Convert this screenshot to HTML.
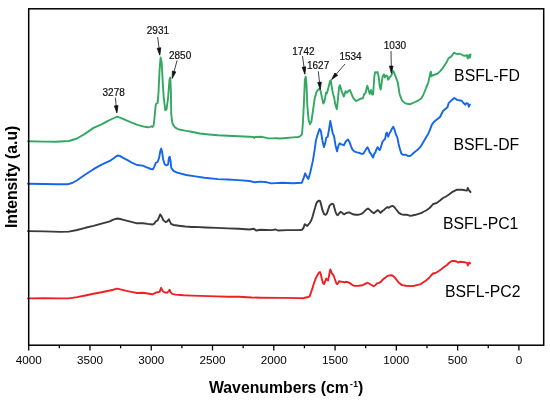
<!DOCTYPE html>
<html><head><meta charset="utf-8"><style>
html,body{margin:0;padding:0;background:#fff;}
body{width:550px;height:401px;overflow:hidden;}
svg{display:block;}
text{font-family:"Liberation Sans",Arial,sans-serif;}
</style></head><body>
<svg width="550" height="401" viewBox="0 0 550 401">
<g fill="none" stroke-linejoin="round" stroke-linecap="round" stroke-width="1.9">
<polyline stroke="#32a862" points="28.0,141.3 44.0,141.6 55.8,141.8 69.0,141.0 77.0,138.5 85.3,133.6 93.5,127.9 101.6,124.3 107.5,121.1 113.0,118.5 117.2,116.7 122.4,118.6 129.9,121.9 137.4,124.9 144.9,126.8 148.0,127.3 150.0,126.8 151.5,126.3 152.5,127.0 153.6,125.5 154.5,118.0 155.6,106.0 156.3,103.6 157.6,103.2 158.5,92.4 159.5,71.2 160.6,57.4 161.7,62.7 162.7,81.8 163.8,98.7 165.3,110.4 166.5,109.3 168.0,98.7 169.5,79.7 170.3,77.6 170.9,92.4 171.2,113.0 171.8,119.5 172.5,123.5 174.0,126.2 175.3,127.7 178.9,129.5 186.2,130.9 191.6,131.8 199.8,133.5 208.9,134.5 218.0,135.3 227.7,135.7 238.6,136.3 249.5,136.8 253.5,137.0 254.3,138.0 255.0,137.0 262.0,136.8 267.5,138.2 272.0,138.4 276.0,138.2 280.0,138.5 286.0,138.0 293.2,137.4 298.0,137.0 300.0,136.3 302.0,134.3 302.9,123.0 303.8,105.5 304.9,79.6 305.7,76.7 306.5,84.4 307.3,105.5 308.6,120.0 309.9,124.2 311.4,121.5 313.0,110.4 314.6,99.0 316.3,92.6 317.9,90.1 319.5,88.5 320.6,90.9 321.9,97.4 323.3,103.6 324.4,101.5 325.2,97.4 326.0,92.6 326.8,93.4 327.6,90.9 328.4,87.7 330.0,81.2 330.8,80.4 331.6,86.1 332.9,93.4 334.1,97.4 335.2,103.9 336.8,109.2 337.8,100.7 339.0,87.7 339.8,85.3 340.0,85.2 341.6,91.2 343.8,96.6 345.5,91.2 346.8,92.8 348.2,91.2 349.8,89.9 351.5,93.9 353.1,97.7 355.8,101.0 358.5,99.9 360.7,98.6 362.9,98.3 364.0,94.5 365.6,92.8 367.3,85.7 368.6,90.1 369.7,93.9 371.1,90.1 372.2,94.5 373.1,94.5 374.4,75.9 375.1,72.1 376.5,72.6 377.6,72.1 378.7,77.0 379.8,86.8 380.6,89.5 381.5,84.6 382.5,77.0 383.9,74.3 384.9,77.5 386.4,75.4 387.5,76.5 388.2,79.7 389.6,77.5 391.3,75.4 393.2,71.0 394.5,73.7 396.2,78.1 397.8,82.5 399.5,93.4 400.2,95.9 402.0,100.3 404.6,102.9 407.2,103.8 409.8,104.3 412.5,103.2 415.1,102.0 418.6,100.3 421.2,98.5 423.0,95.5 424.7,91.5 426.4,87.2 428.2,82.8 429.4,77.6 430.5,72.3 430.9,71.8 431.4,76.4 432.3,75.5 435.0,74.5 437.7,73.6 440.0,71.4 442.3,68.6 444.5,65.5 446.8,61.8 448.6,58.2 451.4,56.4 452.7,54.5 454.1,52.7 455.9,53.6 457.7,54.1 459.5,53.6 461.4,54.5 463.2,55.5 465.0,55.9 466.8,55.0 467.7,58.6 468.6,55.9 469.5,55.0 470.0,57.7 470.5,54.5"/>
<polyline stroke="#1566e8" points="28.0,183.8 44.4,184.0 55.8,184.3 67.3,184.3 72.2,183.0 77.1,180.2 85.3,174.5 93.5,169.2 101.6,164.6 109.8,160.9 113.3,158.4 117.4,155.5 119.8,155.9 123.1,157.9 128.0,160.4 132.9,163.2 137.0,165.0 142.7,165.6 146.8,167.4 150.9,169.0 152.9,169.4 154.2,166.9 155.8,162.8 157.5,162.0 159.1,157.9 160.4,150.5 161.2,148.6 162.0,151.4 163.2,159.5 164.8,164.5 166.5,165.3 168.1,164.5 168.9,157.9 169.7,156.8 170.6,161.2 171.2,167.7 173.5,170.9 177.1,172.7 186.2,175.0 195.3,176.4 204.4,177.7 218.0,179.1 227.7,179.5 238.6,180.1 249.5,181.0 255.0,182.3 260.5,181.6 267.0,182.3 271.4,183.4 282.3,182.7 293.2,183.2 301.9,182.7 303.7,177.9 305.2,173.3 306.5,176.1 308.4,178.9 310.3,172.3 312.8,161.1 314.5,150.8 315.9,140.5 317.8,134.0 319.6,128.9 320.9,131.2 322.4,140.5 323.9,147.1 325.2,143.3 326.2,137.7 327.7,136.8 329.0,129.3 330.3,120.9 331.4,126.5 332.7,133.1 334.0,135.9 335.5,145.2 337.0,151.4 338.3,146.1 339.6,143.3 341.5,144.3 343.9,145.2 345.8,141.5 348.0,139.4 349.5,141.9 351.0,146.4 352.5,149.7 354.7,151.6 357.0,152.4 359.2,152.8 361.5,153.9 363.0,153.9 364.4,152.1 365.9,149.4 367.4,147.2 368.6,149.4 369.7,152.4 371.2,154.2 373.0,157.6 374.2,153.9 375.4,152.4 376.4,149.4 377.6,147.2 378.7,149.1 379.7,150.1 380.9,147.2 382.4,141.9 383.9,140.1 385.1,138.9 386.1,133.7 386.9,132.6 388.1,136.7 389.1,134.1 390.6,131.5 392.1,128.5 393.2,126.7 394.4,129.2 395.9,134.4 397.3,137.4 398.5,143.4 400.0,149.4 401.5,153.9 403.3,154.9 405.6,154.6 407.5,155.7 409.3,156.1 410.8,155.7 412.3,154.2 413.8,152.8 417.0,150.3 420.5,146.8 423.1,142.4 425.7,138.1 428.3,133.7 430.1,129.3 431.8,124.9 433.6,122.3 436.2,120.1 438.8,118.0 440.0,117.0 443.0,111.0 446.0,108.5 447.5,107.3 448.6,103.2 451.0,100.8 454.2,98.0 457.2,99.9 461.7,100.8 463.2,102.8 465.4,104.7 466.5,103.1 468.0,103.6 468.8,106.9 469.9,104.7"/>
<polyline stroke="#3a3a3a" points="28.0,231.1 44.4,231.4 60.7,231.9 68.9,231.6 77.1,230.0 85.3,227.8 93.5,225.9 101.6,223.7 109.8,221.3 113.3,219.6 117.4,218.5 121.5,219.3 126.4,220.6 131.3,221.9 136.2,223.2 142.7,223.2 147.6,223.9 152.6,224.5 154.2,223.7 155.8,221.3 157.5,220.5 159.1,217.2 160.2,214.4 161.6,216.4 163.2,220.0 165.6,222.1 167.3,221.3 168.9,219.3 170.2,222.1 171.4,224.2 173.8,225.0 178.7,225.7 185.3,226.5 191.8,227.0 195.0,226.9 205.9,227.5 216.8,227.9 227.7,228.4 238.6,228.8 249.5,229.5 253.9,228.8 256.1,230.5 260.5,229.7 271.4,230.1 275.7,229.5 277.9,230.5 286.6,230.1 299.7,230.1 301.9,229.8 303.5,228.0 304.7,224.3 305.6,224.7 306.9,225.9 308.1,224.9 309.7,223.0 311.2,220.5 312.5,216.8 313.7,212.4 315.0,208.1 316.2,203.7 317.5,201.6 319.0,200.6 320.2,201.2 321.2,205.0 322.4,209.9 323.9,213.9 325.6,214.9 326.8,213.7 328.1,209.9 329.3,206.2 330.9,204.3 332.4,203.7 333.4,204.3 334.3,207.4 335.5,211.8 336.8,214.7 337.8,215.3 338.9,213.7 340.5,211.8 341.8,212.4 343.0,213.7 344.3,214.3 345.5,213.4 347.4,212.7 349.3,212.4 351.1,213.4 353.0,214.3 355.5,214.7 358.0,214.8 361.4,213.9 363.9,211.9 366.5,209.3 368.0,208.5 369.6,209.7 371.5,211.6 373.8,213.2 376.0,211.4 377.9,210.1 379.2,211.4 380.5,212.9 382.4,211.0 384.3,209.7 386.2,207.8 387.5,207.2 388.7,207.8 390.6,206.5 392.9,205.9 394.5,207.2 396.4,209.7 398.9,212.9 401.5,214.4 404.0,214.8 406.5,214.6 409.7,215.7 412.3,215.5 415.5,214.8 418.6,213.9 421.8,212.9 423.0,212.0 426.0,210.5 429.0,208.5 431.5,206.0 433.0,204.2 435.0,203.5 437.0,202.8 440.0,200.5 443.0,198.0 446.0,196.5 449.0,194.5 452.0,192.2 454.5,190.8 456.5,189.8 459.0,189.6 462.0,189.8 465.0,190.3 467.0,190.5 467.8,188.0 468.5,189.5 469.5,191.0 470.5,192.0"/>
<polyline stroke="#ee2024" points="28.0,298.4 44.4,298.2 60.7,298.4 68.9,298.4 77.1,297.1 85.3,295.5 93.5,293.8 101.6,292.2 109.8,290.5 113.3,289.7 116.9,288.6 121.5,289.7 126.4,290.9 131.3,291.9 137.0,293.0 142.7,292.7 147.6,293.5 152.6,294.3 155.0,293.0 157.5,292.2 159.6,291.9 161.1,287.8 162.6,290.8 164.0,292.2 167.3,292.7 168.6,291.4 169.6,289.7 170.6,292.2 172.2,293.8 175.5,294.6 183.6,295.3 191.8,295.6 200.0,295.9 216.8,296.4 227.7,296.8 238.6,296.8 251.7,297.5 260.5,297.7 282.3,297.9 299.7,298.1 303.3,298.3 305.5,297.5 307.6,297.3 309.6,296.4 310.9,292.9 312.5,288.0 314.2,282.5 315.8,278.2 317.5,274.9 318.8,272.7 319.9,272.0 320.7,273.8 321.8,278.7 322.9,282.9 324.0,284.0 325.1,281.5 326.2,278.5 327.3,279.8 328.1,280.4 328.9,276.5 329.7,272.2 330.3,269.5 331.1,271.1 332.0,273.8 332.9,274.4 333.8,276.0 334.9,279.3 336.0,282.5 337.1,284.2 338.2,283.1 339.1,281.1 340.4,281.5 342.0,281.8 343.6,282.0 344.7,282.5 345.8,281.8 348.0,282.2 350.2,283.3 352.4,285.1 354.5,285.8 356.7,285.9 358.8,285.7 362.6,285.2 365.2,283.9 367.7,282.7 370.3,284.2 373.5,286.3 375.4,285.2 377.3,283.2 379.2,282.9 381.1,281.6 383.0,279.3 385.5,277.6 387.5,275.9 390.0,275.3 392.5,275.5 394.5,277.2 397.0,280.4 399.5,283.3 402.1,285.1 405.9,285.8 411.0,286.1 414.8,285.7 418.6,284.6 420.0,284.5 423.0,282.5 426.0,280.5 429.0,278.0 431.0,275.5 433.0,273.5 435.5,273.0 438.0,271.5 441.0,269.5 444.0,267.0 447.0,265.0 449.5,262.5 452.0,261.0 454.5,261.0 456.5,261.5 458.0,262.5 460.0,261.8 462.5,262.0 465.0,262.3 467.0,262.8 467.8,265.5 468.5,263.5 469.5,262.5 470.0,263.5"/>
</g>
<rect x="28.7" y="8.8" width="515.0" height="336.4" fill="none" stroke="#000" stroke-width="1.5"/>
<g stroke="#000" stroke-width="1.3"><line x1="28.70" y1="345.2" x2="28.70" y2="350.5"/><line x1="89.97" y1="345.2" x2="89.97" y2="350.5"/><line x1="151.25" y1="345.2" x2="151.25" y2="350.5"/><line x1="212.52" y1="345.2" x2="212.52" y2="350.5"/><line x1="273.80" y1="345.2" x2="273.80" y2="350.5"/><line x1="335.07" y1="345.2" x2="335.07" y2="350.5"/><line x1="396.35" y1="345.2" x2="396.35" y2="350.5"/><line x1="457.62" y1="345.2" x2="457.62" y2="350.5"/><line x1="518.90" y1="345.2" x2="518.90" y2="350.5"/><line x1="59.34" y1="345.2" x2="59.34" y2="348.3"/><line x1="120.61" y1="345.2" x2="120.61" y2="348.3"/><line x1="181.89" y1="345.2" x2="181.89" y2="348.3"/><line x1="243.16" y1="345.2" x2="243.16" y2="348.3"/><line x1="304.44" y1="345.2" x2="304.44" y2="348.3"/><line x1="365.71" y1="345.2" x2="365.71" y2="348.3"/><line x1="426.99" y1="345.2" x2="426.99" y2="348.3"/><line x1="488.26" y1="345.2" x2="488.26" y2="348.3"/></g>
<g font-size="11.7" text-anchor="middle" fill="#000"><text x="28.70" y="364.3">4000</text><text x="89.97" y="364.3">3500</text><text x="151.25" y="364.3">3000</text><text x="212.52" y="364.3">2500</text><text x="273.80" y="364.3">2000</text><text x="335.07" y="364.3">1500</text><text x="396.35" y="364.3">1000</text><text x="457.62" y="364.3">500</text><text x="518.90" y="364.3">0</text></g>
<g stroke="#111" stroke-width="0.8" fill="#111"><line x1="115.4" y1="97.7" x2="116.2" y2="105.7"/><polygon points="116.9,112.9 114.4,105.9 118.0,105.6"/><line x1="157.7" y1="37.2" x2="159.0" y2="48.0"/><polygon points="159.8,55.2 157.2,48.3 160.8,47.8"/><line x1="177.1" y1="60.4" x2="174.1" y2="71.5"/><polygon points="172.2,78.4 172.4,71.0 175.8,71.9"/><line x1="302.5" y1="56.0" x2="304.0" y2="67.1"/><polygon points="304.9,74.2 302.2,67.3 305.7,66.8"/><line x1="318.3" y1="71.3" x2="319.5" y2="82.3"/><polygon points="320.3,89.5 317.7,82.5 321.3,82.1"/><line x1="345.0" y1="64.0" x2="336.3" y2="74.1"/><polygon points="331.6,79.6 334.9,73.0 337.7,75.3"/><line x1="391.0" y1="51.0" x2="391.3" y2="66.1"/><polygon points="391.4,73.3 389.5,66.1 393.1,66.1"/></g>
<g font-size="10" text-anchor="middle" fill="#111" stroke="#111" stroke-width="0.2"><text x="113.7" y="95.6">3278</text><text x="157.9" y="34.2">2931</text><text x="180.1" y="58.9">2850</text><text x="303.4" y="54.5">1742</text><text x="318.1" y="69.1">1627</text><text x="350.5" y="59.9">1534</text><text x="394.9" y="48.9">1030</text></g>
<g font-size="15.8" fill="#000">
<text x="454.1" y="80.6">BSFL-FD</text>
<text x="453.4" y="149.6">BSFL-DF</text>
<text x="442.9" y="228.8">BSFL-PC1</text>
<text x="445.0" y="296.6">BSFL-PC2</text>
</g>
<text x="209.0" y="393" font-size="15.8" font-weight="bold">Wavenumbers (cm<tspan font-size="8.5" dx="1.1" dy="-6.2">-</tspan><tspan font-size="8.5" dx="0.5">1</tspan><tspan dy="6.2">)</tspan></text>
<text transform="translate(16.9,228.1) rotate(-90)" font-size="15.75" font-weight="bold">Intensity (a.u)</text>
</svg>
</body></html>
